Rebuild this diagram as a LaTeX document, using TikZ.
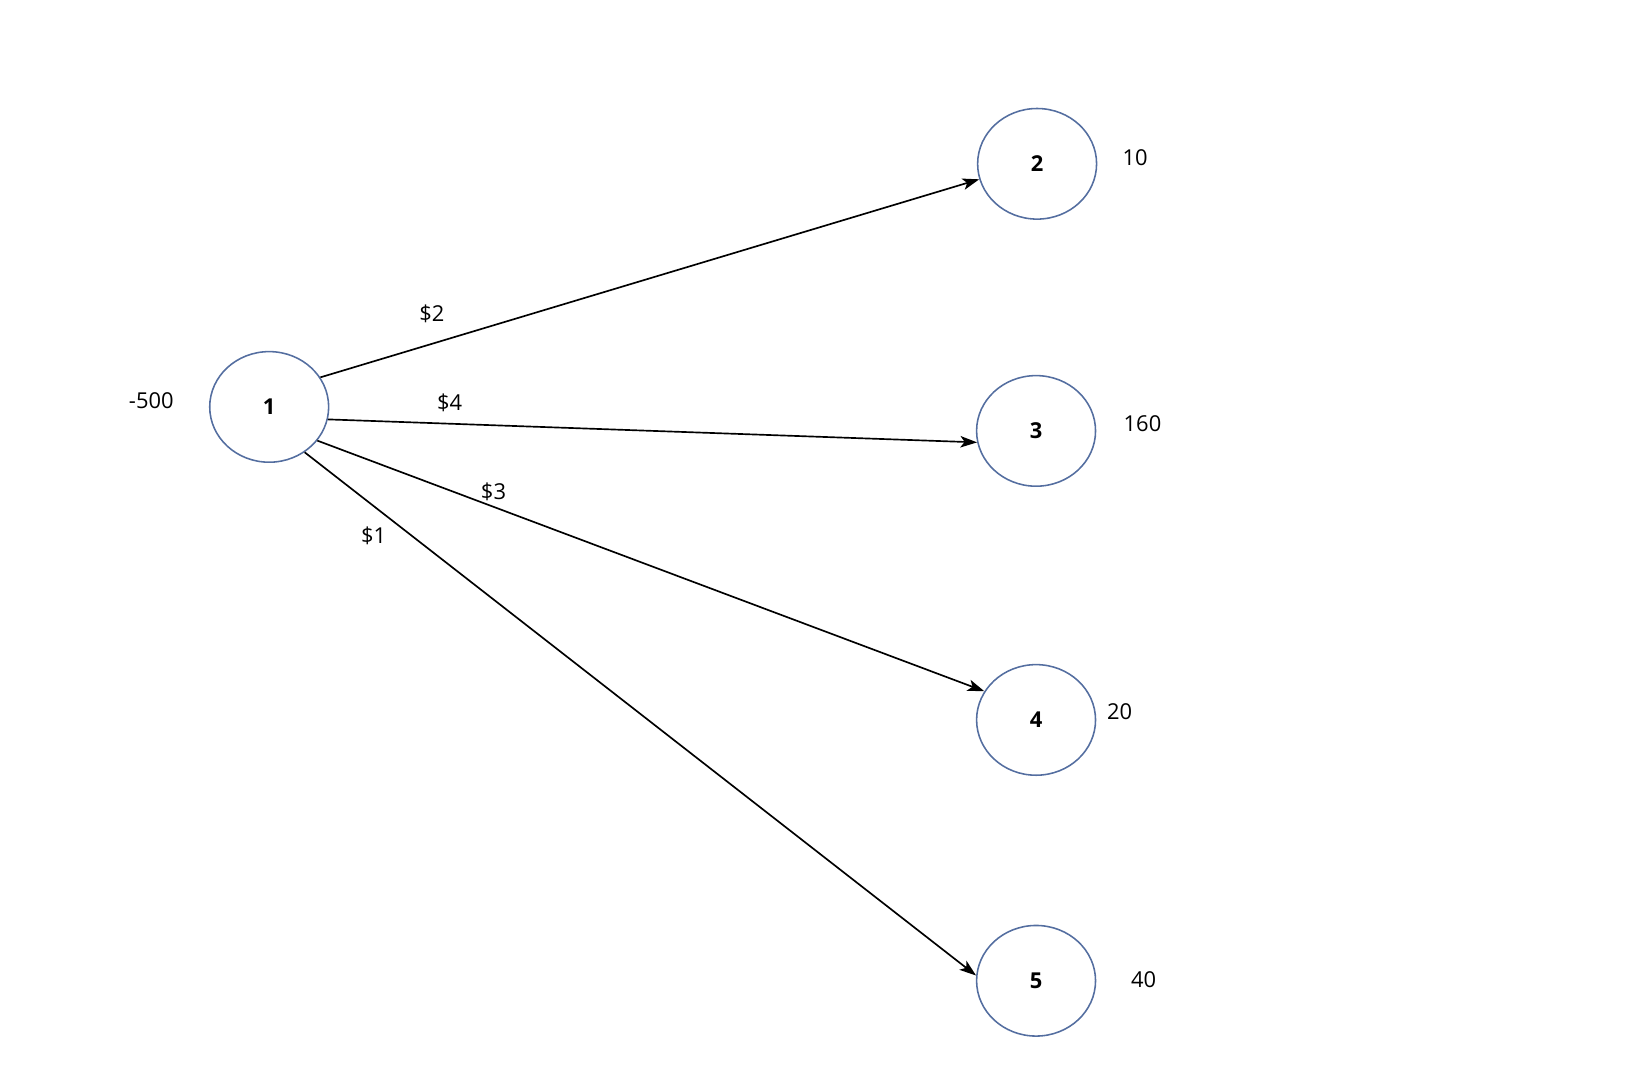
\documentclass[tikz,border=0pt]{standalone}
\usepackage{fontspec}
\setmainfont{Open Sans}
\usetikzlibrary{arrows.meta,shapes.geometric}
\begin{document}
\begin{tikzpicture}[x=1pt,y=-1pt,
  nd/.style={ellipse,draw={rgb,255:red,84;green,110;blue,160},line width=1.5pt,minimum width=114pt,minimum height=106pt,inner sep=0pt,font=\fontsize{21}{25}\selectfont\bfseries},
  lb/.style={font=\fontsize{21}{25}\selectfont},
  ar/.style={line width=1.6pt,-{Stealth[length=16pt,width=11pt,inset=4pt]}}]
\useasboundingbox (0,0) rectangle (1568,1024);
\node[nd] (n1) at (258,390) {1};
\node[nd] (n2) at (994,157) {2};
\node[nd] (n3) at (993,413) {3};
\node[nd] (n4) at (993,690) {4};
\node[nd] (n5) at (993,940) {5};
\draw[ar] (n1.30) -- (n2.195);
\draw[ar] (n1.-12) -- (n3.-169);
\draw[ar] (n1.-35) -- (n4.151);
\draw[ar] (n1.-52) -- (n5.175);
\node[lb] (l2) at (414,301) {\$2};
\node[lb] (l4) at (431,386) {\$4};
\node[lb] (l3) at (473,471) {\$3};
\node[lb] (l1) at (358,514) {\$1};
\node[lb] (s1) at (145,384) {-500};
\node[lb] (s2) at (1088,151) {10};
\node[lb] (s3) at (1095,406) {160};
\node[lb] (s4) at (1073,682) {20};
\node[lb] (s5) at (1096,939) {40};
\end{tikzpicture}
\end{document}
